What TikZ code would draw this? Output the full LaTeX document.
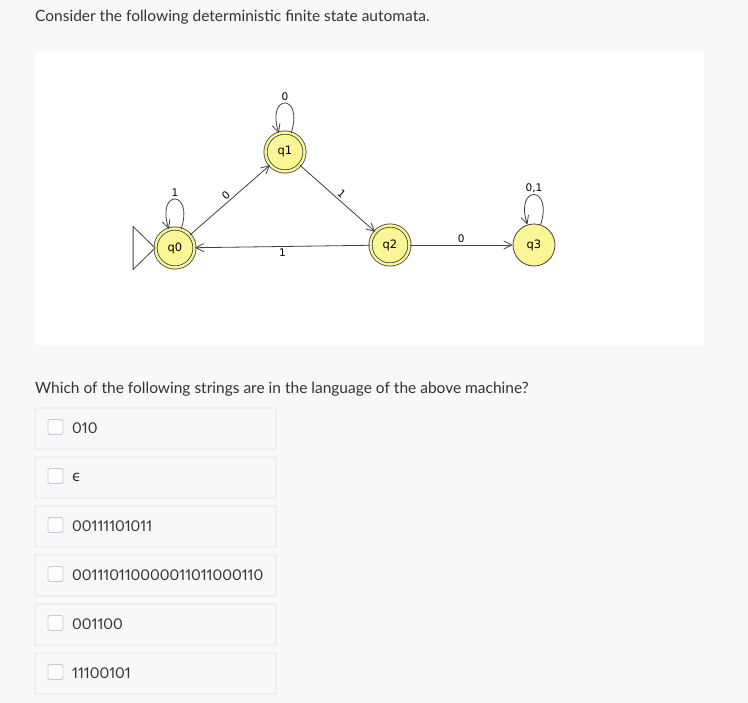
\documentclass[tikz,border=0pt]{standalone}
\usepackage{fontspec}
\setmainfont{Lato}[Numbers=Proportional]
\newfontfamily\statefont{DejaVu Sans}
\usetikzlibrary{automata,positioning,arrows.meta}
\definecolor{pagebg}{RGB}{248,248,250}
\definecolor{boxline}{RGB}{222,224,230}
\definecolor{tickline}{RGB}{198,202,212}
\definecolor{inktext}{RGB}{51,51,51}
\definecolor{stateyellow}{RGB}{250,246,150}
\tikzset{>={Straight Barb[length=8pt,width=8pt]},
node distance=100pt,every state/.style={draw=black!75,line width=0.8pt,fill=stateyellow,minimum size=39pt,inner sep=0pt,font=\statefont\fontsize{11.5}{12}\selectfont}, % looks of each 'state' node
final/.style={double=stateyellow,double distance=2.4pt}, % accepting states
selfloop/.style={loop,out=72,in=108,min distance=42pt},
lbl/.style={font=\statefont\fontsize{10.5}{11}\selectfont,inner sep=2pt},
optbox/.style={draw=boxline,fill=pagebg,line width=0.8pt,minimum width=241pt,minimum height=41pt,rounded corners=1pt},
tickbox/.style={draw=tickline,fill=white,line width=0.8pt,minimum size=15pt,inner sep=0pt,rounded corners=1.5pt},
qtext/.style={text=inktext,inner sep=0pt,anchor=base west,font=\fontsize{15.5}{18}\selectfont}
}
\begin{document}
\begin{tikzpicture}[x=1pt,y=-1pt]
    \fill[pagebg] (0,0) rectangle (748,703);
    \useasboundingbox (0,0) rectangle (748,703);
    \fill[white] (35,52) rectangle (704,345);

    \node[qtext] (title) at (35,22) {Consider the following deterministic finite state automata.};
    \node[qtext] (question) at (35,394) {Which of the following strings are in the language of the above machine?};

    \node[state,final,on grid] (q0) at (175,248) {q0};
    \node[state,final,on grid,above right=96pt and 110pt of q0] (q1) {q1};
    \node[state,final,on grid,below right=93pt and 105pt of q1] (q2) {q2};
    \node[state,on grid,minimum size=42pt,right=144pt of q2] (q3) {q3};

    \draw[draw=black!75,fill=white,line width=0.8pt] (q0.west) -- ++(-22pt,21.5pt) -- ++(0,-43pt) -- cycle;

    \draw[->,draw=black!75,line width=0.8pt]
          (q0) edge[selfloop] node[lbl,above]{1} (q0)
          (q0) edge node[lbl,above,sloped]{0} (q1)
          (q1) edge[selfloop] node[lbl,above]{0} (q1)
          (q1) edge node[lbl,above,sloped]{1} (q2)
          (q2) edge node[lbl,below]{1} (q0)
          (q2) edge node[lbl,above]{0} (q3)
          (q3) edge[selfloop] node[lbl,above]{0,1} (q3);

    \foreach \txt [count=\i from 0] in {010,{\statefont ϵ},00111101011,001110110000011011000110,001100,11100101}{
        \node[optbox] (opt\i) at (155.5,{428.5+49*\i}) {};
        \node[tickbox,right=13pt of opt\i.west,anchor=west,yshift=1.5pt] (chk\i) {};
        \node[qtext,anchor=west,font=\fontsize{14.8}{17}\selectfont] (ans\i) at (72,{428.5+49*\i}) {\txt};
    }
\end{tikzpicture}
\end{document}
